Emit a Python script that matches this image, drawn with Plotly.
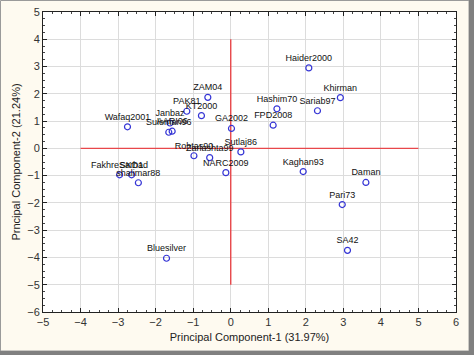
import plotly.graph_objects as go

# ---- data ----
genotypes = ["Haider2000", "Khirman", "Hashim70", "Sariab97", "FPD2008", "ZAM04", "PAK81",
             "KT2000", "GA2002", "Wafaq2001", "Janbaz", "Suleman96", "AARI06", "Rohtas90",
             "Zarlashta99", "Sutlaj86", "NARC2009", "FakhreSarhad", "SKD1", "shalimar88",
             "Kaghan93", "Daman", "Pari73", "SA42", "Bluesilver"]
pc1 = [2.08, 2.92, 1.23, 2.31, 1.13, -0.61, -1.17,
       -0.78, 0.02, -2.75, -1.62, -1.65, -1.56, -0.98,
       -0.56, 0.27, -0.13, -2.96, -2.64, -2.46,
       1.93, 3.60, 2.97, 3.11, -1.71]
pc2 = [2.95, 1.86, 1.45, 1.38, 0.85, 1.87, 1.36,
       1.20, 0.73, 0.79, 0.93, 0.59, 0.63, -0.27,
       -0.34, -0.13, -0.89, -0.97, -0.97, -1.26,
       -0.85, -1.25, -2.06, -3.74, -4.03]

x_ticks = [-5, -4, -3, -2, -1, 0, 1, 2, 3, 4, 5, 6]
y_ticks = [-6, -5, -4, -3, -2, -1, 0, 1, 2, 3, 4, 5]

# reference (origin) lines
h_line_x = [-4, 5]
h_line_y = [0, 0]
v_line_x = [0, 0]
v_line_y = [-5, 4]

x_title = "Principal Component-1 (31.97%)"
y_title = "Prncipal Component-2 (21.24%)"

FONT = "Liberation Sans, Arial, sans-serif"
RED = "#E8474B"

fig = go.Figure()
fig.add_trace(go.Scatter(x=h_line_x, y=h_line_y, mode="lines",
                         line=dict(color=RED, width=1.4), hoverinfo="skip"))
fig.add_trace(go.Scatter(x=v_line_x, y=v_line_y, mode="lines",
                         line=dict(color=RED, width=1.4), hoverinfo="skip"))
fig.add_trace(go.Scatter(
    x=pc1, y=pc2, mode="markers+text", text=genotypes, textposition="top center",
    textfont=dict(family=FONT, size=9, color="#111111"),
    marker=dict(symbol="circle-open", size=6, color="#3535D5", line=dict(width=1.2)),
    cliponaxis=False,
))

axis_common = dict(
    showgrid=True, gridcolor="#DCDCDC", gridwidth=1, automargin=False,
    zeroline=False, showline=True, linecolor="#222222", linewidth=1,
    mirror="allticks", ticks="inside", ticklen=4, tickcolor="#222222",
    tickfont=dict(family=FONT, size=11, color="#333333"),
    minor=dict(ticks="inside", ticklen=2, dtick=0.25, tickcolor="#444444", showgrid=False),
)

fig.update_xaxes(range=[-5, 6], tickvals=x_ticks, **axis_common,
                 title=dict(text=x_title, font=dict(family=FONT, size=11, color="#222222"), standoff=6))
fig.update_yaxes(range=[-6, 5], tickvals=y_ticks, **axis_common,
                 title=dict(text=y_title, font=dict(family=FONT, size=11, color="#222222"), standoff=4))

# outer frame (paper coordinates: plot spans px 43..456 horizontally, 12..312 vertically)
def px_x(p):
    return (p - 43) / 413.0

def px_y(p):
    return (312 - p) / 300.0

shapes = [
    dict(type="rect", xref="paper", yref="paper", x0=px_x(0.5), x1=px_x(469), y0=px_y(351), y1=px_y(0.5),
         line=dict(color="#9A9A9A", width=1), fillcolor="rgba(0,0,0,0)", layer="below"),
    dict(type="rect", xref="paper", yref="paper", x0=px_x(469), x1=px_x(474), y0=px_y(355), y1=px_y(0),
         line=dict(width=0), fillcolor="#808080"),
    dict(type="rect", xref="paper", yref="paper", x0=px_x(0), x1=px_x(474), y0=px_y(355), y1=px_y(351),
         line=dict(width=0), fillcolor="#808080"),
]

fig.update_layout(
    width=474, height=355,
    margin=dict(l=43, r=18, t=12, b=43, autoexpand=False),
    paper_bgcolor="#FEFAF0", plot_bgcolor="#FFFFFF",
    showlegend=False, shapes=shapes,
    font=dict(family=FONT),
)

fig.write_html("out.html", config={"displayModeBar": False},
               post_script="document.body.style.margin='0px';document.body.style.overflow='hidden';")
